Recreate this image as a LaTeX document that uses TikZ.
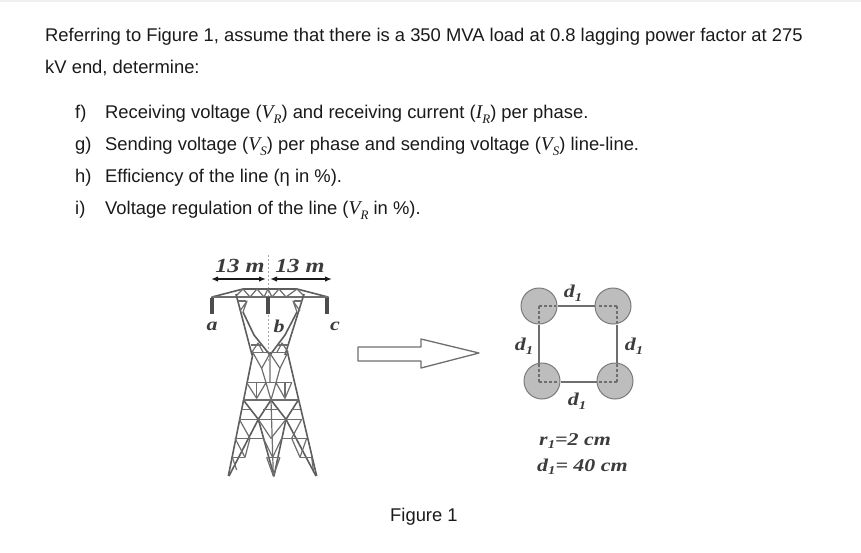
\documentclass[tikz,border=0pt]{standalone}
\usepackage{fontspec}
\setmainfont{Liberation Sans}
\newfontfamily\serifbi[FakeStretch=1.22]{Liberation Serif}
\newfontfamily\serifit{Liberation Serif}
\usetikzlibrary{arrows.meta}
\definecolor{ink}{HTML}{1A1A1A}
\definecolor{truss}{HTML}{6E6E6E}
\definecolor{cond}{HTML}{BDBDBD}
\definecolor{condedge}{HTML}{7A7A7A}
\newcommand{\vv}[2]{{\fontsize{19.5}{19.5}\selectfont\serifit\itshape #1}\raisebox{-0.3em}{\fontsize{13}{13}\selectfont\serifit\itshape #2}}
\newcommand{\dsub}{{\serifbi\bfseries\itshape d}\raisebox{-0.2em}{\fontsize{12}{12}\selectfont\serifbi\bfseries\itshape 1}}
\tikzset{
  body/.style={anchor=base west,inner sep=0pt,font=\fontsize{18.4}{18.4}\selectfont,text=ink},
  figlab/.style={inner sep=0pt,text=ink!85,font=\fontsize{18}{18}\selectfont\serifbi\bfseries\itshape},
  spanlab/.style={inner sep=0pt,text=ink!85,font=\fontsize{20}{20}\selectfont\serifbi\bfseries\itshape},
  bar/.style={draw=truss,line width=1.2pt,line join=round},
  main/.style={draw=truss!85!black,line width=1.6pt,line join=round},
  insul/.style={draw=black!70,line width=4.6pt},
  conductor/.style={draw=condedge,fill=cond,line width=1pt,circle,minimum size=36pt,inner sep=0pt},
  spacing/.style={draw=truss,line width=1.1pt},
  innerdash/.style={draw=truss,line width=1.1pt,dash pattern=on 3pt off 2pt},
  dimarrow/.style={draw=ink,line width=1.4pt,{Latex[length=7pt,width=5.5pt]}-{Latex[length=7pt,width=5.5pt]}},
}
\begin{document}
\begin{tikzpicture}[x=1pt,y=-1pt]
\useasboundingbox (0,0) rectangle (861,552);
\fill[black!6] (0,0) rectangle (861,1.5);
% --- question text
\node[body] (q1) at (45,41) {Referring to Figure 1, assume that there is a 350 MVA load at 0.8 lagging power factor at 275};
\node[body] (q2) at (45,73) {kV end, determine:};
\node[body] (fa) at (75,118) {f)};
\node[body] (fb) at (105,118) {Receiving voltage (\vv{V}{R}) and receiving current (\vv{I}{R}) per phase.};
\node[body] (ga) at (75,150) {g)};
\node[body] (gb) at (105,150) {Sending voltage (\vv{V}{S}) per phase and sending voltage (\vv{V}{S}) line-line.};
\node[body] (ha) at (75,182) {h)};
\node[body] (hb) at (105,182) {Efficiency of the line (η in \%).};
\node[body] (ia) at (75,214) {i)};
\node[body] (ib) at (105,214) {Voltage regulation of the line (\vv{V}{R} in \%).};
\node[body] (fig) at (390,521) {Figure 1};
% --- tower: centre line and spans
\draw[draw=black!35,line width=.6pt,dash pattern=on 2pt off 2pt] (268,255) -- (268,362);
\coordinate (spanL) at (211,279); \coordinate (spanM) at (268,279); \coordinate (spanR) at (332,279);
\draw[dimarrow] (spanL) -- ([xshift=-2pt]spanM);
\draw[dimarrow] ([xshift=2pt]spanM) -- (spanR);
\node[spanlab] (s1) at (240,266) {13 m};
\node[spanlab] (s2) at (300,266) {13 m};
\node[figlab] (pa) at (212,326) {a};
\node[figlab] (pb) at (279,326) {b};
\node[figlab] (pc) at (335,326) {c};
% crossarm
\draw[main] (212,299) -- (212,297) -- (243,289) -- (297,289) -- (328,297) -- (328,299);
\draw[bar] (212,297) -- (328,297);
\draw[bar] (236,296) -- (243,289) -- (250,297) -- (257,289) -- (264,297) -- (268,289) -- (272,297) -- (279,289) -- (286,297) -- (297,289) -- (304,296);
% insulators
\draw[insul] (212,298) -- (212,314);
\draw[insul] (268,297) -- (268,314);
\draw[insul] (327,298) -- (327,314);
% upper cage
\draw[main] (236,294) -- (252,355);
\draw[main] (304,294) -- (285,355);
\draw[main] (243,312) -- (254,335) -- (270,355);
\draw[main] (297,312) -- (285,335) -- (270,355);
\draw[bar] (238,301) -- (246,301) (302,301) -- (294,301);
\draw[bar] (240,311) -- (247,301) -- (243,312) (300,311) -- (293,301) -- (297,312);
\draw[bar] (251,345) -- (262,345) (278,345) -- (288,345);
\draw[bar] (252,352) -- (258,343) -- (263,352) (288,352) -- (282,343) -- (277,352);
% body and legs, in zoom-grid units
\begin{scope}[shift={(200,350)},x=.3333pt,y=-.3333pt]
  % outer legs
  \draw[main] (160,5) -- (85,378);
  \draw[main] (262,5) -- (350,378);
  % triangular legs
  \draw[main] (175,208) -- (87,378);
  \draw[main] (258,208) -- (348,378);
  \draw[main] (175,208) -- (222,378) -- (258,208);
  % zigzag below bar 150
  \draw[main] (130,150) -- (175,208) -- (213,150) -- (258,208) -- (295,150);
  % horizontals
  \foreach \xa/\xb/\yy in {160/262/8,140/275/98,130/295/150,122/150/178,190/235/178,275/300/178,118/305/208,105/190/265,245/320/265,97/135/322,200/240/322,300/335/322}
    \draw[bar] (\xa,\yy) -- (\xb,\yy);
  % upper web
  \draw[bar] (160,10) -- (185,55) -- (210,10) -- (240,55) -- (262,10);
  \draw[bar] (185,55) -- (198,98) (240,55) -- (228,98) (210,10) -- (210,98);
  \draw[bar] (140,98) -- (170,145) -- (198,98) -- (213,150) -- (228,98) -- (255,145) -- (275,98);
  \draw[bar] (170,98) -- (170,145) (255,98) -- (255,145);
  % lower web
  \draw[bar] (213,150) -- (220,378);
  \draw[bar] (118,208) -- (150,265) (305,208) -- (275,265);
  \draw[bar] (105,265) -- (135,322) (320,265) -- (300,322);
  \draw[bar] (150,265) -- (135,322) (275,265) -- (300,322);
  \draw[bar] (97,322) -- (110,360) (335,322) -- (340,360);
  \draw[bar] (175,208) -- (213,265) -- (258,208);
  \draw[bar] (190,265) -- (218,322) -- (245,265);
  \draw[bar] (200,322) -- (220,378) -- (240,322);
\end{scope}
% --- block arrow
\draw[draw=truss,line width=1.3pt,fill=white,line join=round] (358,347) -- (421,347) -- (421,339) -- (479,353) -- (421,368) -- (421,361) -- (358,361) -- cycle;
% --- conductor bundle
\coordinate (a1) at (539,306); \coordinate (a2) at (617,306);
\coordinate (a3) at (617,382); \coordinate (a4) at (539,382);
\node[conductor] (c1) at (539,306) {};
\node[conductor] (c2) at (613,306) {};
\node[conductor] (c3) at (615,381) {};
\node[conductor] (c4) at (542,381) {};
\draw[spacing] (c1.east) -- (c2.west);
\draw[spacing] (c2.south -| a2) -- (c3.north -| a3);
\draw[spacing] (c4.east |- a4) -- (c3.west |- a3);
\draw[spacing] (c1.south) -- (c4.north -| c1.south);
\draw[innerdash] (a1) -- (556,306) (a1) -- (539,323);
\draw[innerdash] (a2) -- (598,306) (a2) -- (617,323);
\draw[innerdash] (a3) -- (598,382) (a3) -- (617,364);
\draw[innerdash] (a4) -- (558,382) (a4) -- (539,364);
\node[figlab] (d1) at (573,293) {\dsub};
\node[figlab] (d2) at (524,346) {\dsub};
\node[figlab] (d3) at (634,346) {\dsub};
\node[figlab] (d4) at (577,401) {\dsub};
\node[figlab,anchor=base west] (r) at (539,445) {r\raisebox{-0.2em}{\fontsize{12}{12}\selectfont 1}=2 cm};
\node[figlab,anchor=base west] (dd) at (537,471) {\dsub{}= 40 cm};
\end{tikzpicture}
\end{document}
